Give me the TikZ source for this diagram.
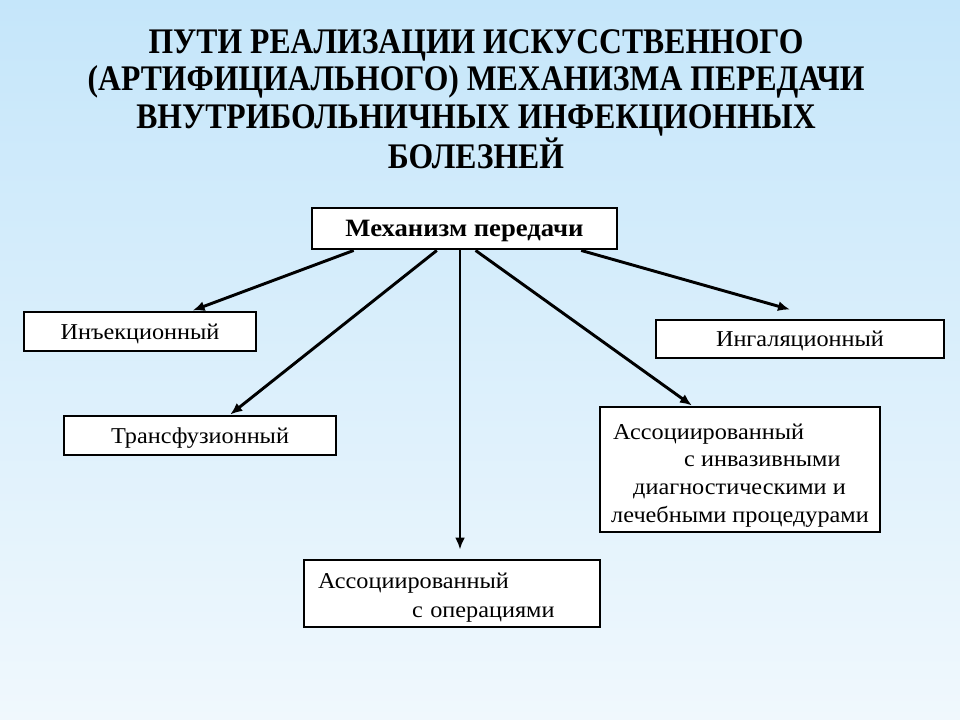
\documentclass[tikz,border=0pt]{standalone}
\usepackage{fontspec}
\setmainfont[FakeStretch=1.07]{Liberation Serif}
\newfontfamily\titlefont[FakeStretch=0.88]{Liberation Serif}
\usetikzlibrary{positioning}
\usetikzlibrary{calc}
\usetikzlibrary{arrows.meta}
\definecolor{bgtop}{RGB}{197,230,250}
\definecolor{bgbot}{RGB}{240,248,253}
\tikzset{
  waybox/.style={draw, line width=2.2pt, fill=white, inner sep=0pt,
    text depth=-4pt, font=\fontsize{17}{20}\selectfont},
  waytext/.style={waybox, text depth=, align=left, inner xsep=6pt,
    font=\fontsize{17}{20.8}\selectfont},
  wayarrow/.style={line width=2.2pt, -{Latex[length=9pt,width=7.5pt]}}
}
\begin{document}
\begin{tikzpicture}[x=0.75pt,y=-0.75pt]
  \shade[top color=bgtop, bottom color=bgbot] (0,0) rectangle (960,720);
  \useasboundingbox (0,0) rectangle (960,720);
  % title
  \node[align=center, font=\titlefont\bfseries\fontsize{27}{28.1}\selectfont] (title) at (476,99)
    {ПУТИ РЕАЛИЗАЦИИ ИСКУССТВЕННОГО\\(АРТИФИЦИАЛЬНОГО) МЕХАНИЗМА ПЕРЕДАЧИ\\ВНУТРИБОЛЬНИЧНЫХ ИНФЕКЦИОННЫХ\\БОЛЕЗНЕЙ};
  % boxes
  \node[waybox, minimum width=228.75pt, minimum height=30.75pt, font=\bfseries\fontsize{18.7}{22}\selectfont] (main) at (464.5,228.5) {Механизм передачи};
  \node[waybox, minimum width=174pt, minimum height=29.25pt] (inj) at (140,331.5) {Инъекционный};
  \node[waybox, minimum width=216pt, minimum height=28.5pt] (ing) at (800,339) {Ингаляционный};
  \node[waybox, minimum width=204pt, minimum height=29.25pt] (tra) at (200,435.5) {Трансфузионный};
  \node[waytext, minimum width=210pt, minimum height=93.75pt] (inv) at (740,469.5)
    {\rule{0pt}{20.4pt}\hspace*{1.5pt}Ассоциированный\\\hspace*{54.75pt}с инвазивными\\\hspace*{16.5pt}диагностическими и\\лечебными процедурами};
  \node[waytext, inner xsep=10.5pt, text width=201pt, minimum height=50.25pt,
    font=\fontsize{17}{21.5}\selectfont] (ope) at (452,593.5)
    {\rule{0pt}{18pt}Ассоциированный\\\hspace*{70.5pt}с операциями};
  % free ends
  \coordinate (vend) at ($(ope.north)+(8,-9)$);
  \coordinate (gend) at ($(ing.north)+(-10,-9)$);
  % connectors
  \draw[wayarrow] ($(main.south west)!0.14!(main.south east)$) -- ($(inj.north west)!0.724!(inj.north east)$);
  \draw[wayarrow] ($(main.south west)!0.41!(main.south east)$) -- ($(tra.north west)!0.61!(tra.north east)$);
  \draw[wayarrow] (main.south -| vend) -- (vend);
  \draw[wayarrow] ($(main.south west)!0.536!(main.south east)$) -- ($(inv.north west)!0.33!(inv.north east)$);
  \draw[wayarrow] ($(main.south west)!0.879!(main.south east)$) -- (gend);
\end{tikzpicture}
\end{document}
